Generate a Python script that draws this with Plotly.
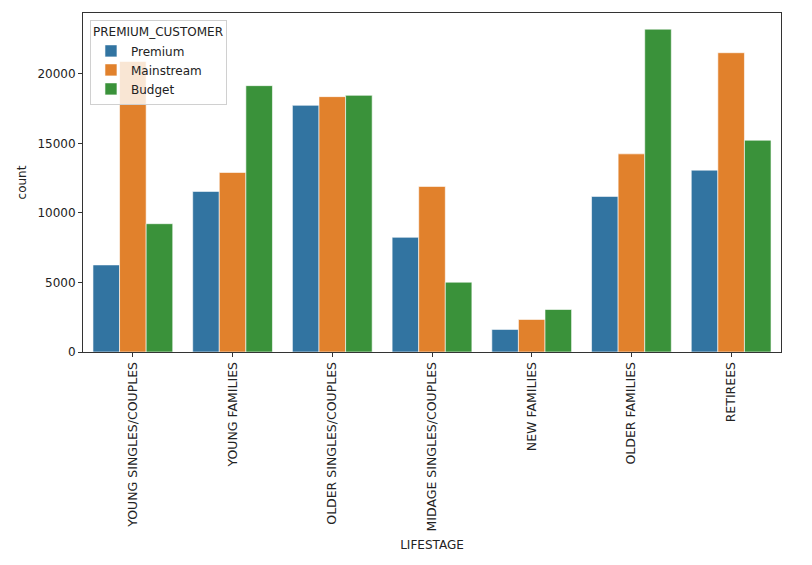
import plotly.graph_objects as go

lifestages = ["YOUNG SINGLES/COUPLES", "YOUNG FAMILIES", "OLDER SINGLES/COUPLES",
              "MIDAGE SINGLES/COUPLES", "NEW FAMILIES", "OLDER FAMILIES", "RETIREES"]
premium = [6265, 11553, 17746, 8252, 1622, 11195, 13082]
mainstream = [20905, 12917, 18370, 11912, 2340, 14253, 21528]
budget = [9230, 19160, 18464, 5023, 3059, 23225, 15235]

series = [("Premium", premium, "#3274a1"),
          ("Mainstream", mainstream, "#e1812c"),
          ("Budget", budget, "#3a923a")]

fig = go.Figure()
for name, vals, color in series:
    fig.add_trace(go.Bar(x=lifestages, y=vals, name=name, marker_color=color,
                         marker_line_color="white", marker_line_width=0.6))

ymax = max(premium + mainstream + budget) * 1.05

fig.update_layout(
    width=812, height=565,
    margin=dict(l=75, r=39, t=5, b=221),
    plot_bgcolor="white", paper_bgcolor="white",
    barmode="group", bargap=0.2, bargroupgap=0,
    font=dict(family="DejaVu Sans", size=12, color="#222"),
    legend=dict(title=dict(text="PREMIUM_CUSTOMER", font=dict(size=12)),
                x=0.01, y=0.98, xanchor="left", yanchor="top",
                bgcolor="rgba(255,255,255,0.8)", bordercolor="#d0d0d0", borderwidth=1,
                font=dict(size=12), tracegroupgap=0, itemwidth=30),
)
fig.update_xaxes(title=dict(text="LIFESTAGE", standoff=10, font=dict(size=12)), tickangle=-90,
                 tickfont=dict(size=12.5),
                 showline=True, linecolor="#333", linewidth=1, mirror=True,
                 ticks="outside", ticklen=4, tickcolor="#333",
                 range=[-0.5, 6.5])
fig.update_yaxes(title=dict(text="count", standoff=8, font=dict(size=12)), range=[0, ymax],
                 tickvals=[0, 5000, 10000, 15000, 20000], tickformat="d",
                 showline=True, linecolor="#333", linewidth=1, mirror=True,
                 ticks="outside", ticklen=4, tickcolor="#333",
                 showgrid=False, zeroline=False)

fig.write_html("out.html")
